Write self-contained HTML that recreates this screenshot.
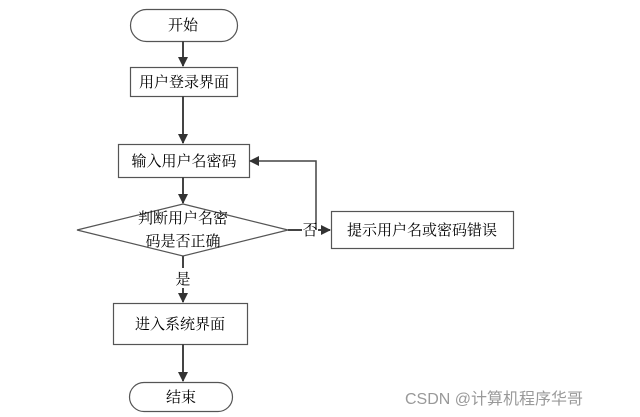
<!DOCTYPE html>
<html><head><meta charset="utf-8"><style>
html,body{margin:0;padding:0;background:#fff;}
svg{display:block;}
text{font-family:"Liberation Serif","Noto Serif CJK SC","Noto Sans CJK SC",serif;font-size:15px;fill:#000;}
.wm{font-family:"Liberation Sans","Noto Sans CJK SC",sans-serif;font-size:16px;fill:#999;}
</style></head><body>
<svg width="640" height="417" viewBox="0 0 640 417">
<defs><marker id="a" markerWidth="10" markerHeight="10" refX="9" refY="5" orient="auto" markerUnits="userSpaceOnUse"><path d="M0,0 L10,5 L0,10 Z" fill="#333"/></marker></defs>
<g fill="#fff" stroke="#555" stroke-width="1.2">
<rect x="130.5" y="9.5" width="107" height="32" rx="16"/>
<rect x="130.5" y="67.5" width="107" height="29"/>
<rect x="118.5" y="144.5" width="131" height="33"/>
<path d="M183,204 L288,230 L183,256 L77,230 Z"/>
<rect x="331.5" y="211.5" width="182" height="37"/>
<rect x="113.5" y="303.5" width="134" height="41"/>
<rect x="129.5" y="382.5" width="103" height="29" rx="14.5"/>
</g>
<g stroke="#444" stroke-width="2" fill="none">
<line x1="183" y1="41" x2="183" y2="66" marker-end="url(#a)"/>
<line x1="183" y1="96" x2="183" y2="143" marker-end="url(#a)"/>
<line x1="183" y1="177" x2="183" y2="203" marker-end="url(#a)"/>
<line x1="183" y1="256" x2="183" y2="268"/>
<line x1="183" y1="288" x2="183" y2="302" marker-end="url(#a)"/>
<line x1="183" y1="344" x2="183" y2="381" marker-end="url(#a)"/>
<line x1="288" y1="230" x2="302" y2="230"/>
<line x1="318" y1="230" x2="330" y2="230" marker-end="url(#a)"/>
<polyline points="316,230 316,161 250,161" stroke-width="1.5" marker-end="url(#a)"/>
</g>
<text x="183" y="30" text-anchor="middle">开始</text>
<text x="184" y="87" text-anchor="middle">用户登录界面</text>
<text x="184" y="166" text-anchor="middle">输入用户名密码</text>
<text x="183" y="223" text-anchor="middle">判断用户名密</text>
<text x="183" y="246" text-anchor="middle">码是否正确</text>
<text x="310" y="235" text-anchor="middle">否</text>
<text x="422" y="235" text-anchor="middle">提示用户名或密码错误</text>
<text x="183" y="284" text-anchor="middle">是</text>
<text x="180" y="329" text-anchor="middle">进入系统界面</text>
<text x="181" y="402" text-anchor="middle">结束</text>
<text class="wm" x="405" y="404">CSDN @计算机程序华哥</text>
</svg>
</body></html>
